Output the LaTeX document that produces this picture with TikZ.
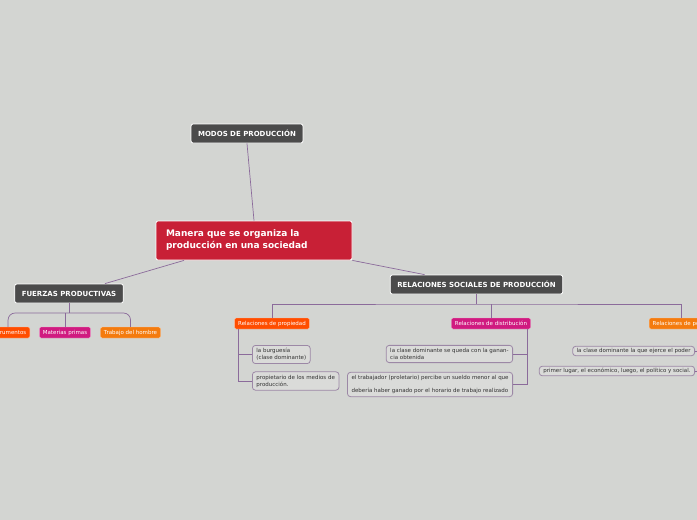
\documentclass[tikz,border=0pt]{standalone}
\usepackage{fontspec}
\setmainfont{DejaVu Sans}
\definecolor{bgcol}{HTML}{D3D5D2}
\definecolor{darkbox}{HTML}{4B4B4B}
\definecolor{redbox}{HTML}{C82036}
\definecolor{propcol}{HTML}{FF4D00}
\definecolor{distcol}{HTML}{D01A80}
\definecolor{podercol}{HTML}{F47B0E}
\definecolor{linkcol}{HTML}{8B6B9B}
\definecolor{leafline}{HTML}{9C88A6}
\definecolor{leaffill}{HTML}{DADBD9}
\definecolor{leaftext}{HTML}{333333}

\begin{document}
\begin{tikzpicture}[x = 1pt, y = -1pt,
    topic/.style = {rectangle, rounded corners = 2pt, draw = white, line width = 0.8pt, fill = darkbox, text = white, font = \bfseries\fontsize{7}{8}\selectfont, minimum height = 19pt, inner xsep = 7pt},
    sub/.style = {rectangle, rounded corners = 1.5pt, draw = white!60!#1, line width = 0.4pt, fill = #1, text = white, font = \fontsize{5.5}{6}\selectfont, minimum height = 11pt, inner xsep = 3.5pt, inner ysep = 1pt},
    leaf/.style = {rectangle, rounded corners = 3pt, draw = leafline, line width = 0.8pt, fill = leaffill, text = leaftext, font = \fontsize{5.5}{7}\selectfont, align = left, inner xsep = 4pt, inner ysep = 3pt},
    link/.style = {draw = linkcol, line width = 0.7pt}]
    \pgfmathsetmacro{\ww}{697}
    \pgfmathsetmacro{\hh}{520}
    \useasboundingbox[clip] (0,0) rectangle (\ww,\hh);
    \fill[bgcol] (0,0) rectangle (\ww,\hh);

    %\draw[help lines, opacity = 0.1, step = 50] (0,0) grid (\ww,\hh);

    \node (central) at (254,240.5) [rectangle, rounded corners = 2pt, draw = white, line width = 0.8pt, fill = redbox, text = white, font = \bfseries\fontsize{9}{12}\selectfont, text width = 176pt, align = left, minimum height = 39pt, inner xsep = 10pt] {Manera que se organiza la\\producción en una sociedad};

    \node (modos) at (247,133.5) [topic] {MODOS DE PRODUCCIÓN};
    \node (fuerzas) at (69,293.5) [topic] {FUERZAS PRODUCTIVAS};
    \node (relaciones) at (476.5,284.5) [topic] {RELACIONES SOCIALES DE PRODUCCIÓN};

    \draw[link] (central.north) -- (modos.south);
    \draw[link] ([xshift = -70pt]central.south) -- ([xshift = 36pt]fuerzas.north);
    \draw[link] (central.south east) -- ([xshift = -52pt]relaciones.north);

    % fuerzas productivas
    \node (instr) at (30,332.5) [sub = propcol, anchor = east] {Instrumentos};
    \node (materias) at (65,332.5) [sub = distcol] {Materias primas};
    \node (trabajo) at (130.5,332.5) [sub = podercol] {Trabajo del hombre};

    \coordinate (fbar) at (69,313);
    \draw[link] (fuerzas.south) -- (fbar);
    \draw[link, rounded corners = 7pt] (instr.north) |- (fbar) -| (trabajo.north);
    \draw[link] (materias.north) -- (materias.north |- fbar);

    % relaciones sociales
    \node (propiedad) at (272,323.5) [sub = propcol] {Relaciones de propiedad};
    \node (distribucion) at (491,323.5) [sub = distcol] {Relaciones de distribución};
    \node (poder) at (649,323.5) [sub = podercol, anchor = west] {Relaciones de poder};

    \coordinate (rbar) at (476.5,304);
    \draw[link] (relaciones.south) -- (rbar);
    \draw[link] (propiedad.north) |- (rbar) -| ([xshift = 32pt]poder.north west);
    \draw[link] (distribucion.north) -- (distribucion.north |- rbar);

    \node (burguesia) at (252,354.5) [leaf, anchor = west] {la burguesía\\(clase dominante)};
    \node (propietario) at (252,381) [leaf, anchor = west] {propietario de los medios de\\producción.};
    \draw[link] ([xshift = 4pt]propiedad.south west) |- (burguesia.west);
    \draw[link] ([xshift = 4pt]propiedad.south west) |- (propietario.west);

    \node (ganancia) at (513,354) [leaf, anchor = east] {la clase dominante se queda con la ganan-\\cia obtenida};
    \node (trabajador) at (513,384.5) [leaf, anchor = east, font = \fontsize{5.5}{13}\selectfont] {el trabajador (proletario) percibe un sueldo menor al que\\debería haber ganado por el horario de trabajo realizado};
    \draw[link] ([xshift = -3pt]distribucion.south east) |- (ganancia.east);
    \draw[link] ([xshift = -3pt]distribucion.south east) |- (trabajador.east);

    \node (ejerce) at (695,351) [leaf, anchor = east, inner ysep = 2pt] {la clase dominante la que ejerce el poder};
    \node (lugar) at (695,371) [leaf, anchor = east, inner ysep = 2pt] {primer lugar, el económico, luego, el político y social.};
    \draw[link] ([xshift = -3pt]poder.south east) |- (ejerce.east);
    \draw[link] ([xshift = -3pt]poder.south east) |- (lugar.east);

\end{tikzpicture}
\end{document}
